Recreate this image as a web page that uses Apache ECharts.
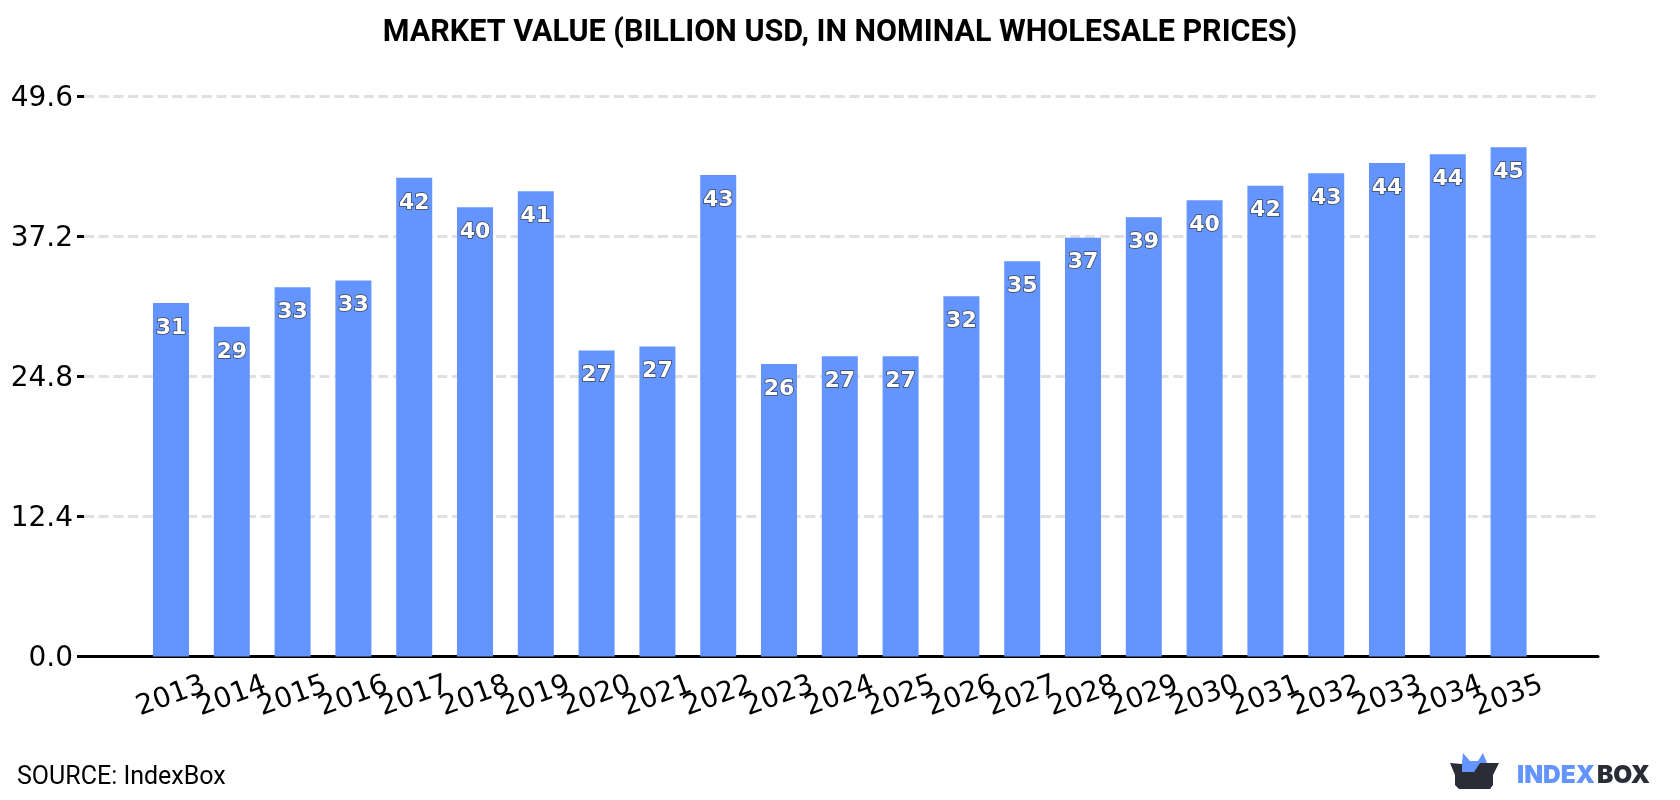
<!DOCTYPE html>
<html>
<head>
<meta charset="utf-8">
<style>html,body{margin:0;padding:0;background:#fff}#chart{width:1680px;height:800px}</style>
<script src="https://cdn.jsdelivr.net/npm/echarts@6/dist/echarts.min.js"></script>
</head>
<body>
<div id="chart"></div>
<script>
const years = ['2013','2014','2015','2016','2017','2018','2019','2020','2021','2022','2023','2024','2025','2026','2027','2028','2029','2030','2031','2032','2033','2034','2035'];
const marketValue = [31.3,29.2,32.7,33.3,42.4,39.8,41.2,27.1,27.45,42.65,25.9,26.6,26.6,31.9,35.0,37.1,38.9,40.4,41.7,42.8,43.7,44.49,45.1];
const yMax = 49.6;
const yStep = 12.4;

const chart = echarts.init(document.getElementById('chart'), null, {renderer: 'canvas'});
chart.setOption({
  animation: false,
  backgroundColor: '#fff',
  title: {
    text: 'MARKET VALUE (BILLION USD, IN NOMINAL WHOLESALE PRICES)',
    left: 'center', top: 13,
    textStyle: {fontFamily: 'Roboto', fontWeight: 700, fontSize: 30.5, color: '#000'}
  },
  grid: [
    {left: 84, right: 82, top: 96.5, height: 560},
    {left: 140.6, right: 141, top: 96.5, height: 560}
  ],
  xAxis: [
    {gridIndex: 0, type: 'category', data: [], axisTick: {show: false}, axisLabel: {show: false},
     axisLine: {lineStyle: {color: '#000', width: 3}}},
    {gridIndex: 1, type: 'category', data: years, z: 5,
     axisLine: {show: false},
     axisTick: {alignWithLabel: true, length: 8, lineStyle: {color: '#000', width: 3}},
     axisLabel: {interval: 0, rotate: 20, margin: 40, align: 'center', verticalAlign: 'middle',
                 fontFamily: 'DejaVu Sans', fontSize: 28, color: '#000'}}
  ],
  yAxis: [
    {gridIndex: 0, type: 'value', min: 0, max: yMax, interval: yStep,
     axisLine: {show: false},
     axisTick: {show: true, length: 7, lineStyle: {color: '#000', width: 3}},
     axisLabel: {margin: 11, formatter: v => '{t|' + v.toFixed(1) + '}',
                 rich: {t: {fontFamily: 'DejaVu Sans', fontSize: 28, color: '#000', padding: [5, 0, 0, 0]}}},
     splitLine: {show: true, lineStyle: {color: '#e0e0e0', width: 3, type: [10, 4.72]}}},
    {gridIndex: 1, type: 'value', min: 0, max: yMax, interval: yStep, show: false}
  ],
  series: [{
    type: 'bar',
    xAxisIndex: 1, yAxisIndex: 1,
    data: marketValue,
    barWidth: 36,
    itemStyle: {color: '#6495ff'},
    label: {
      show: true, position: 'insideTop', distance: 14,
      formatter: p => Math.round(p.value),
      fontFamily: 'DejaVu Sans', fontWeight: 'bold', fontSize: 22,
      color: '#fff', textBorderColor: '#3c4658', textBorderWidth: 1.5
    }
  }],
  graphic: [
    {type: 'text', left: 17, top: 765, style: {text: 'SOURCE: IndexBox', fontFamily: 'Roboto', fontSize: 25, fill: '#000'}},
    {type: 'polygon', shape: {points: [[1462,763],[1463,753],[1470,761],[1478,761],[1483,753],[1487,763],[1474,772],[1462,772]]}, style: {fill: '#6495ff'}},
    {type: 'polygon', shape: {points: [[1450,763],[1462,764],[1462,772],[1474,772],[1480,763],[1499,763],[1493,775],[1493,785],[1490,789],[1459,789],[1455,785],[1455,775]]}, style: {fill: '#2a2c38'}},
    {type: 'text', left: 1517, top: 763, style: {text: 'INDEX', fontFamily: 'Inter', fontWeight: 900, fontSize: 24.5, fill: '#6495ff'}},
    {type: 'text', left: 1597, top: 763, style: {text: 'BOX', fontFamily: 'Inter', fontWeight: 900, fontSize: 24.5, fill: '#2a2c38'}}
  ]
});
</script>
</body>
</html>
